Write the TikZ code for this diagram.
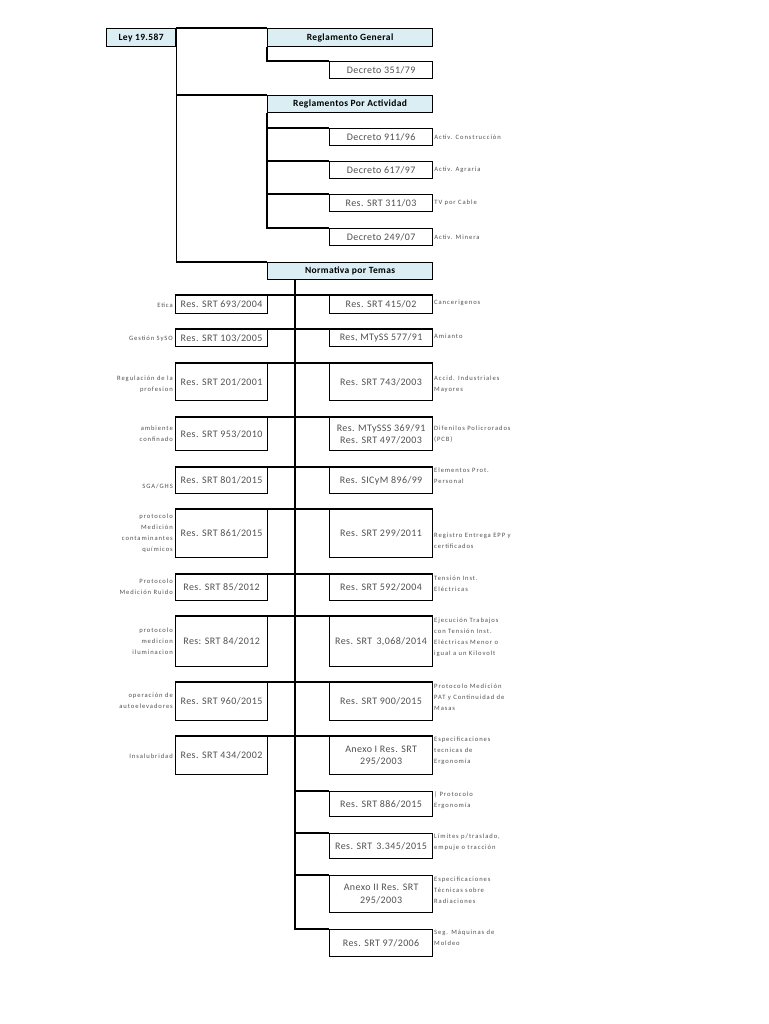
\documentclass[tikz,border=0pt]{standalone}
\usepackage{fontspec}
\setmainfont{Carlito}[LetterSpace=4]
\newfontfamily\labfont{Carlito}[LetterSpace=14]
\definecolor{hdr}{HTML}{DAEEF3}
\definecolor{txt}{HTML}{505050}
\begin{document}
\begin{tikzpicture}[x=1pt,y=-1pt,
  ln/.style={line width=1.2pt},
  bx/.style={draw,line width=1.2pt,inner sep=0pt,align=center,font=\fontsize{10}{12.5}\selectfont,text=txt},
  hd/.style={bx,fill=hdr,text=black,font=\fontsize{9.5}{11}\selectfont\bfseries},
  lab/.style={font=\labfont\fontsize{6.6}{11}\selectfont,text=txt,inner sep=1pt}]
\useasboundingbox (0,0) rectangle (768,1024);
\newcommand\bx[7][bx]{\node[#1,anchor=north west,minimum width={#5-#3},minimum height={#6-#4}] (#2) at (#3,#4) {#7};}
\bx[hd]{ley}{106}{28}{175}{46}{Ley 19.587}
\bx[hd]{rg}{267}{28}{432}{46}{Reglamento General}
\bx{d1}{329}{61}{432}{78}{Decreto 351/79}
\bx[hd]{rpa}{267}{95}{432}{112}{Reglamentos Por Actividad}
\bx{d2}{329}{128}{432}{145}{Decreto 911/96}
\bx{d3}{329}{161}{432}{178}{Decreto 617/97}
\bx{d4}{329}{194}{432}{211}{Res. SRT 311/03}
\bx{d5}{329}{228}{432}{245}{Decreto 249/07}
\bx[hd]{nt}{267}{262}{432}{279}{Normativa por Temas}
\draw[ln] (ley.north east) -- (rg.north west);
\draw[ln] (ley.north east) |- (rpa.north west);
\draw[ln] (ley.north east) |- (nt.north west);
\draw[ln] (rg.south west) |- (d1.north west);
\foreach \d in {d2,d3,d4,d5} \draw[ln] (rpa.south west) |- (\d.north west);
\node[lab,anchor=west] (a1) at (d2.east) {Activ. Construcción};
\node[lab,anchor=west] (a2) at (d3.east) {Activ. Agraria};
\node[lab,anchor=west] (a3) at (d4.east) {TV por Cable};
\node[lab,anchor=west] (a4) at (d5.east) {Activ. Minera};
% rows
\bx{l1}{175}{295}{267}{313}{Res. SRT 693/2004}
\bx{r1}{329}{295}{432}{313}{Res. SRT 415/02}
\bx{l2}{175}{329}{267}{346}{Res. SRT 103/2005}
\bx{r2}{329}{329}{432}{346}{Res, MTySS 577/91}
\bx{l3}{175}{363}{267}{400}{Res. SRT 201/2001}
\bx{r3}{329}{363}{432}{400}{Res. SRT 743/2003}
\bx{l4}{175}{417}{267}{450}{Res. SRT 953/2010}
\bx{r4}{329}{417}{432}{450}{Res. MTySSS 369/91\\Res. SRT 497/2003}
\bx{l5}{175}{467}{267}{493}{Res. SRT 801/2015}
\bx{r5}{329}{467}{432}{493}{Res. SICyM 896/99}
\bx{l6}{175}{509}{267}{557}{Res. SRT 861/2015}
\bx{r6}{329}{509}{432}{557}{Res. SRT 299/2011}
\bx{l7}{175}{574}{267}{600}{Res. SRT 85/2012}
\bx{r7}{329}{574}{432}{600}{Res. SRT 592/2004}
\bx{l8}{175}{616}{267}{666}{Res: SRT 84/2012}
\bx{r8}{329}{616}{432}{666}{Res. SRT \,3,068/2014}
\bx{l9}{175}{682}{267}{720}{Res. SRT 960/2015}
\bx{r9}{329}{682}{432}{720}{Res. SRT 900/2015}
\bx{l10}{175}{736}{267}{774}{Res. SRT 434/2002}
\bx{r10}{329}{736}{432}{774}{Anexo I Res. SRT\\295/2003}
\bx{r11}{329}{791}{432}{816}{Res. SRT 886/2015}
\bx{r12}{329}{833}{432}{858}{Res. SRT \,3.345/2015}
\bx{r13}{329}{875}{432}{912}{Anexo II Res. SRT\\295/2003}
\bx{r14}{329}{929}{432}{956}{Res. SRT 97/2006}
\coordinate (tr) at (295,279);
\draw[ln] (tr) |- (r14.north west);
\foreach \i in {1,...,10} \draw[ln] (l\i.north west) -- (r\i.north east);
\foreach \i in {11,12,13} \draw[ln] (tr) |- (r\i.north west);
% left labels
\tikzset{ll/.style={lab,anchor=east,align=right}, rl/.style={lab,anchor=west,align=left}}
\node[ll] at (174,305) {Etica};
\node[ll] at (174,339) {Gestión SySO};
\node[ll] at (174,384) {Regulación de la\\profesion};
\node[ll] at (174,434) {ambiente\\confinado};
\node[ll] at (174,486) {SGA/GHS};
\node[ll] at (174,533) {protocolo\\Medición\\contaminantes\\químicos};
\node[ll] at (174,587) {Protocolo\\Medición Ruido};
\node[ll] at (174,641) {protocolo\\medicion\\iluminacion};
\node[ll] at (174,701) {operación de\\autoelevadores};
\node[ll] at (174,756) {Insalubridad};
% right labels
\node[rl] at (433,303) {Cancerigenos};
\node[rl] at (433,336) {Amianto};
\node[rl] at (433,384) {Accid. Industriales\\Mayores};
\node[rl] at (433,434) {Difenilos Policrorados\\(PCB)};
\node[rl] at (433,476) {Elementos Prot.\\Personal};
\node[rl] at (433,541) {Registro Entrega EPP y\\certificados};
\node[rl] at (433,584) {Tensión Inst.\\Eléctricas};
\node[rl] at (433,637) {Ejecución Trabajos\\con Tensión Inst.\\Eléctricas Menor o\\igual a un Kilovolt};
\node[rl] at (433,697) {Protocolo Medición\\PAT y Continuidad de\\Masas};
\node[rl] at (433,751) {Especificaciones\\tecnicas de\\Ergonomía};
\node[rl] at (433,800) {| Protocolo\\Ergonomía};
\node[rl] at (433,842) {Límites p/traslado,\\empuje o tracción};
\node[rl] at (433,890) {Especificaciones\\Técnicas sobre\\Radiaciones};
\node[rl] at (433,938) {Seg. Máquinas de\\Moldeo};
\end{tikzpicture}
\end{document}
